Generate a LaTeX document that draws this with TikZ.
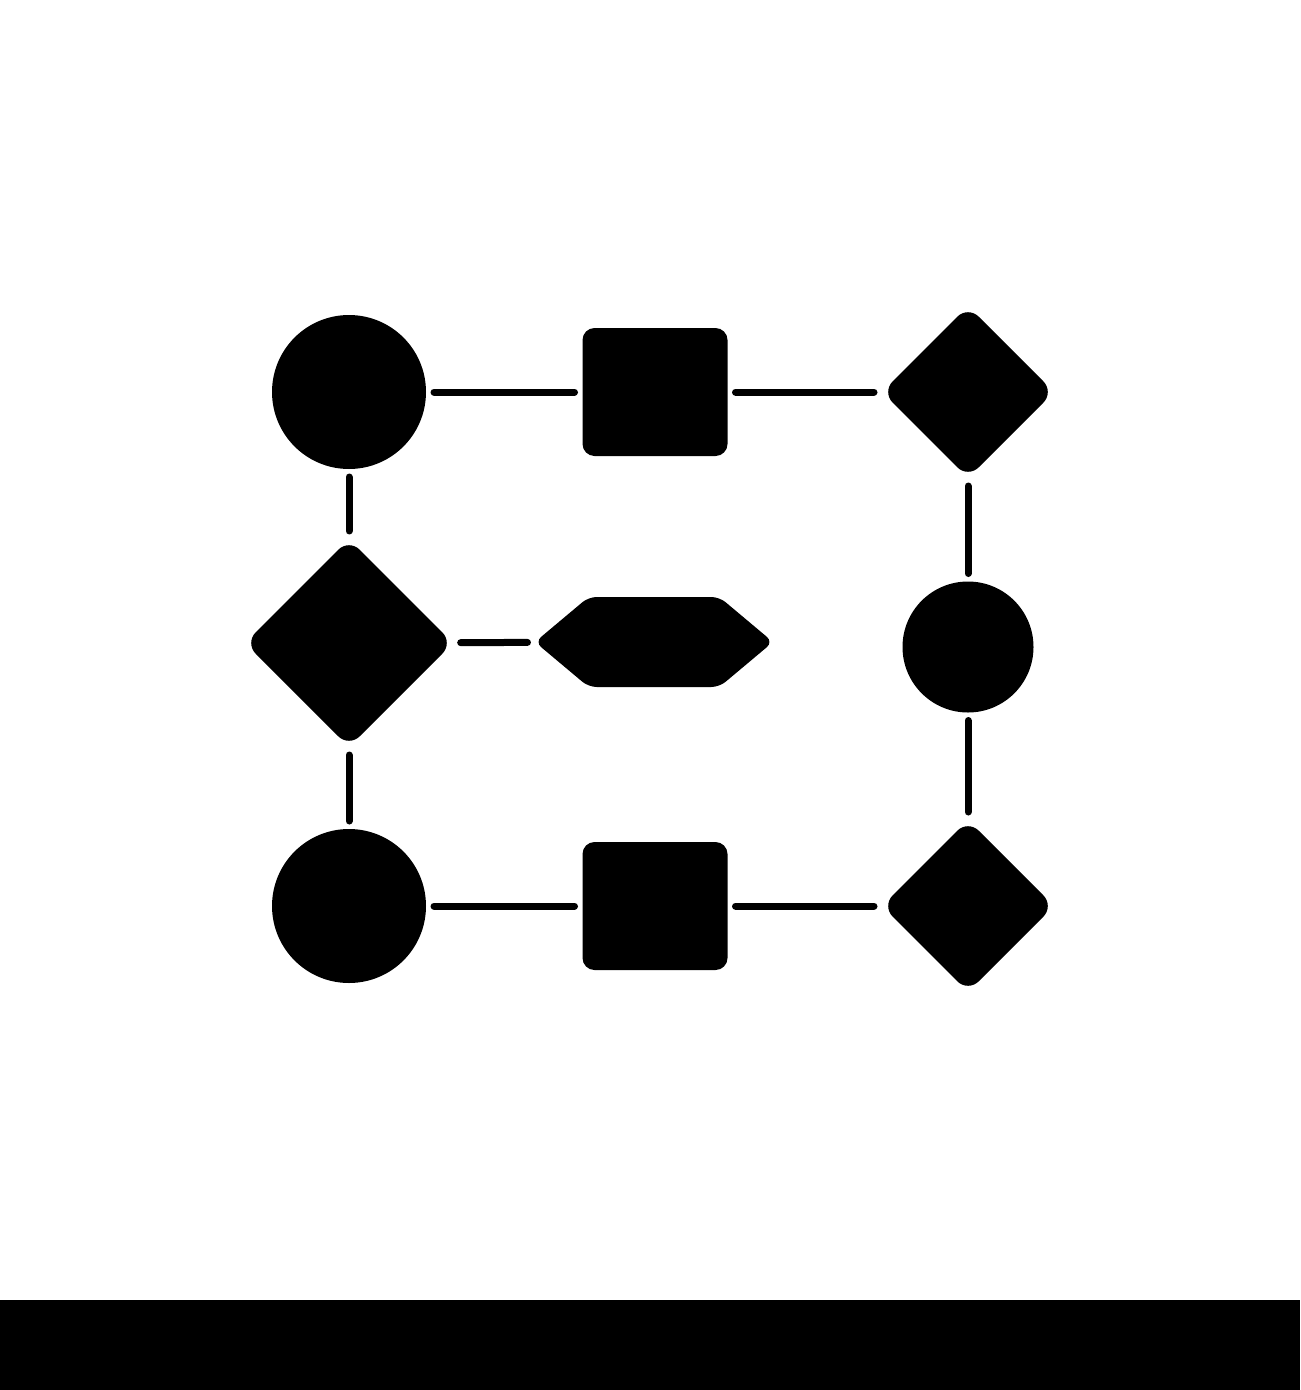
\documentclass[tikz,border=0pt]{standalone}
\usetikzlibrary{shapes.geometric,shapes.symbols}

\begin{document}
\begin{tikzpicture}[x=0.1mm,y=-0.1mm]
    \tikzstyle{block}=[fill=black,inner sep=0pt,outer sep=0pt]
    \tikzstyle{big circle}=[block,circle,minimum size=15.4mm]
    \tikzstyle{small circle}=[block,circle,minimum size=13.1mm]
    \tikzstyle{square block}=[block,rectangle,rounded corners=1.2mm,minimum width=14.5mm,minimum height=12.8mm]
    \tikzstyle{decision}=[block,diamond,aspect=1,rounded corners=1.5mm,minimum size=17.2mm]
    \tikzstyle{big decision}=[decision,minimum size=20.8mm]
    \tikzstyle{terminal}=[block,signal,signal to=west and east,signal pointer angle=80,rounded corners=0.8mm,minimum width=23.8mm,minimum height=9mm]
    \tikzstyle{link}=[draw=black,line width=0.7mm,line cap=round,shorten >=0.8mm,shorten <=0.8mm]

    \useasboundingbox (0,0) rectangle (1300,1390);

    % Draw the top row
    \node[big circle] (c1) at (349,392) {};
    \node[square block] (s1) at (655,392) {};
    \node[decision] (d1) at (968,392) {};

    % Draw the middle row
    \node[big decision] (d2) at (349,643) {};
    \node[terminal] (t1) at (654,642) {};
    \node[small circle] (c2) at (968,647) {};

    % Draw the bottom row
    \node[big circle] (c3) at (349,906) {};
    \node[square block] (s2) at (655,906) {};
    \node[decision] (d3) at (968,906) {};

    % Connect the shapes
    \foreach \source/\dest in {c1/s1,s1/d1,c1/d2,d2/c3,d2/t1,d1/c2,c2/d3,c3/s2,s2/d3}
        \path[link] (\source) -- (\dest);

    % Banner strip at the foot
    \fill[black] (0,1300) rectangle (1300,1390);
\end{tikzpicture}
\end{document}
